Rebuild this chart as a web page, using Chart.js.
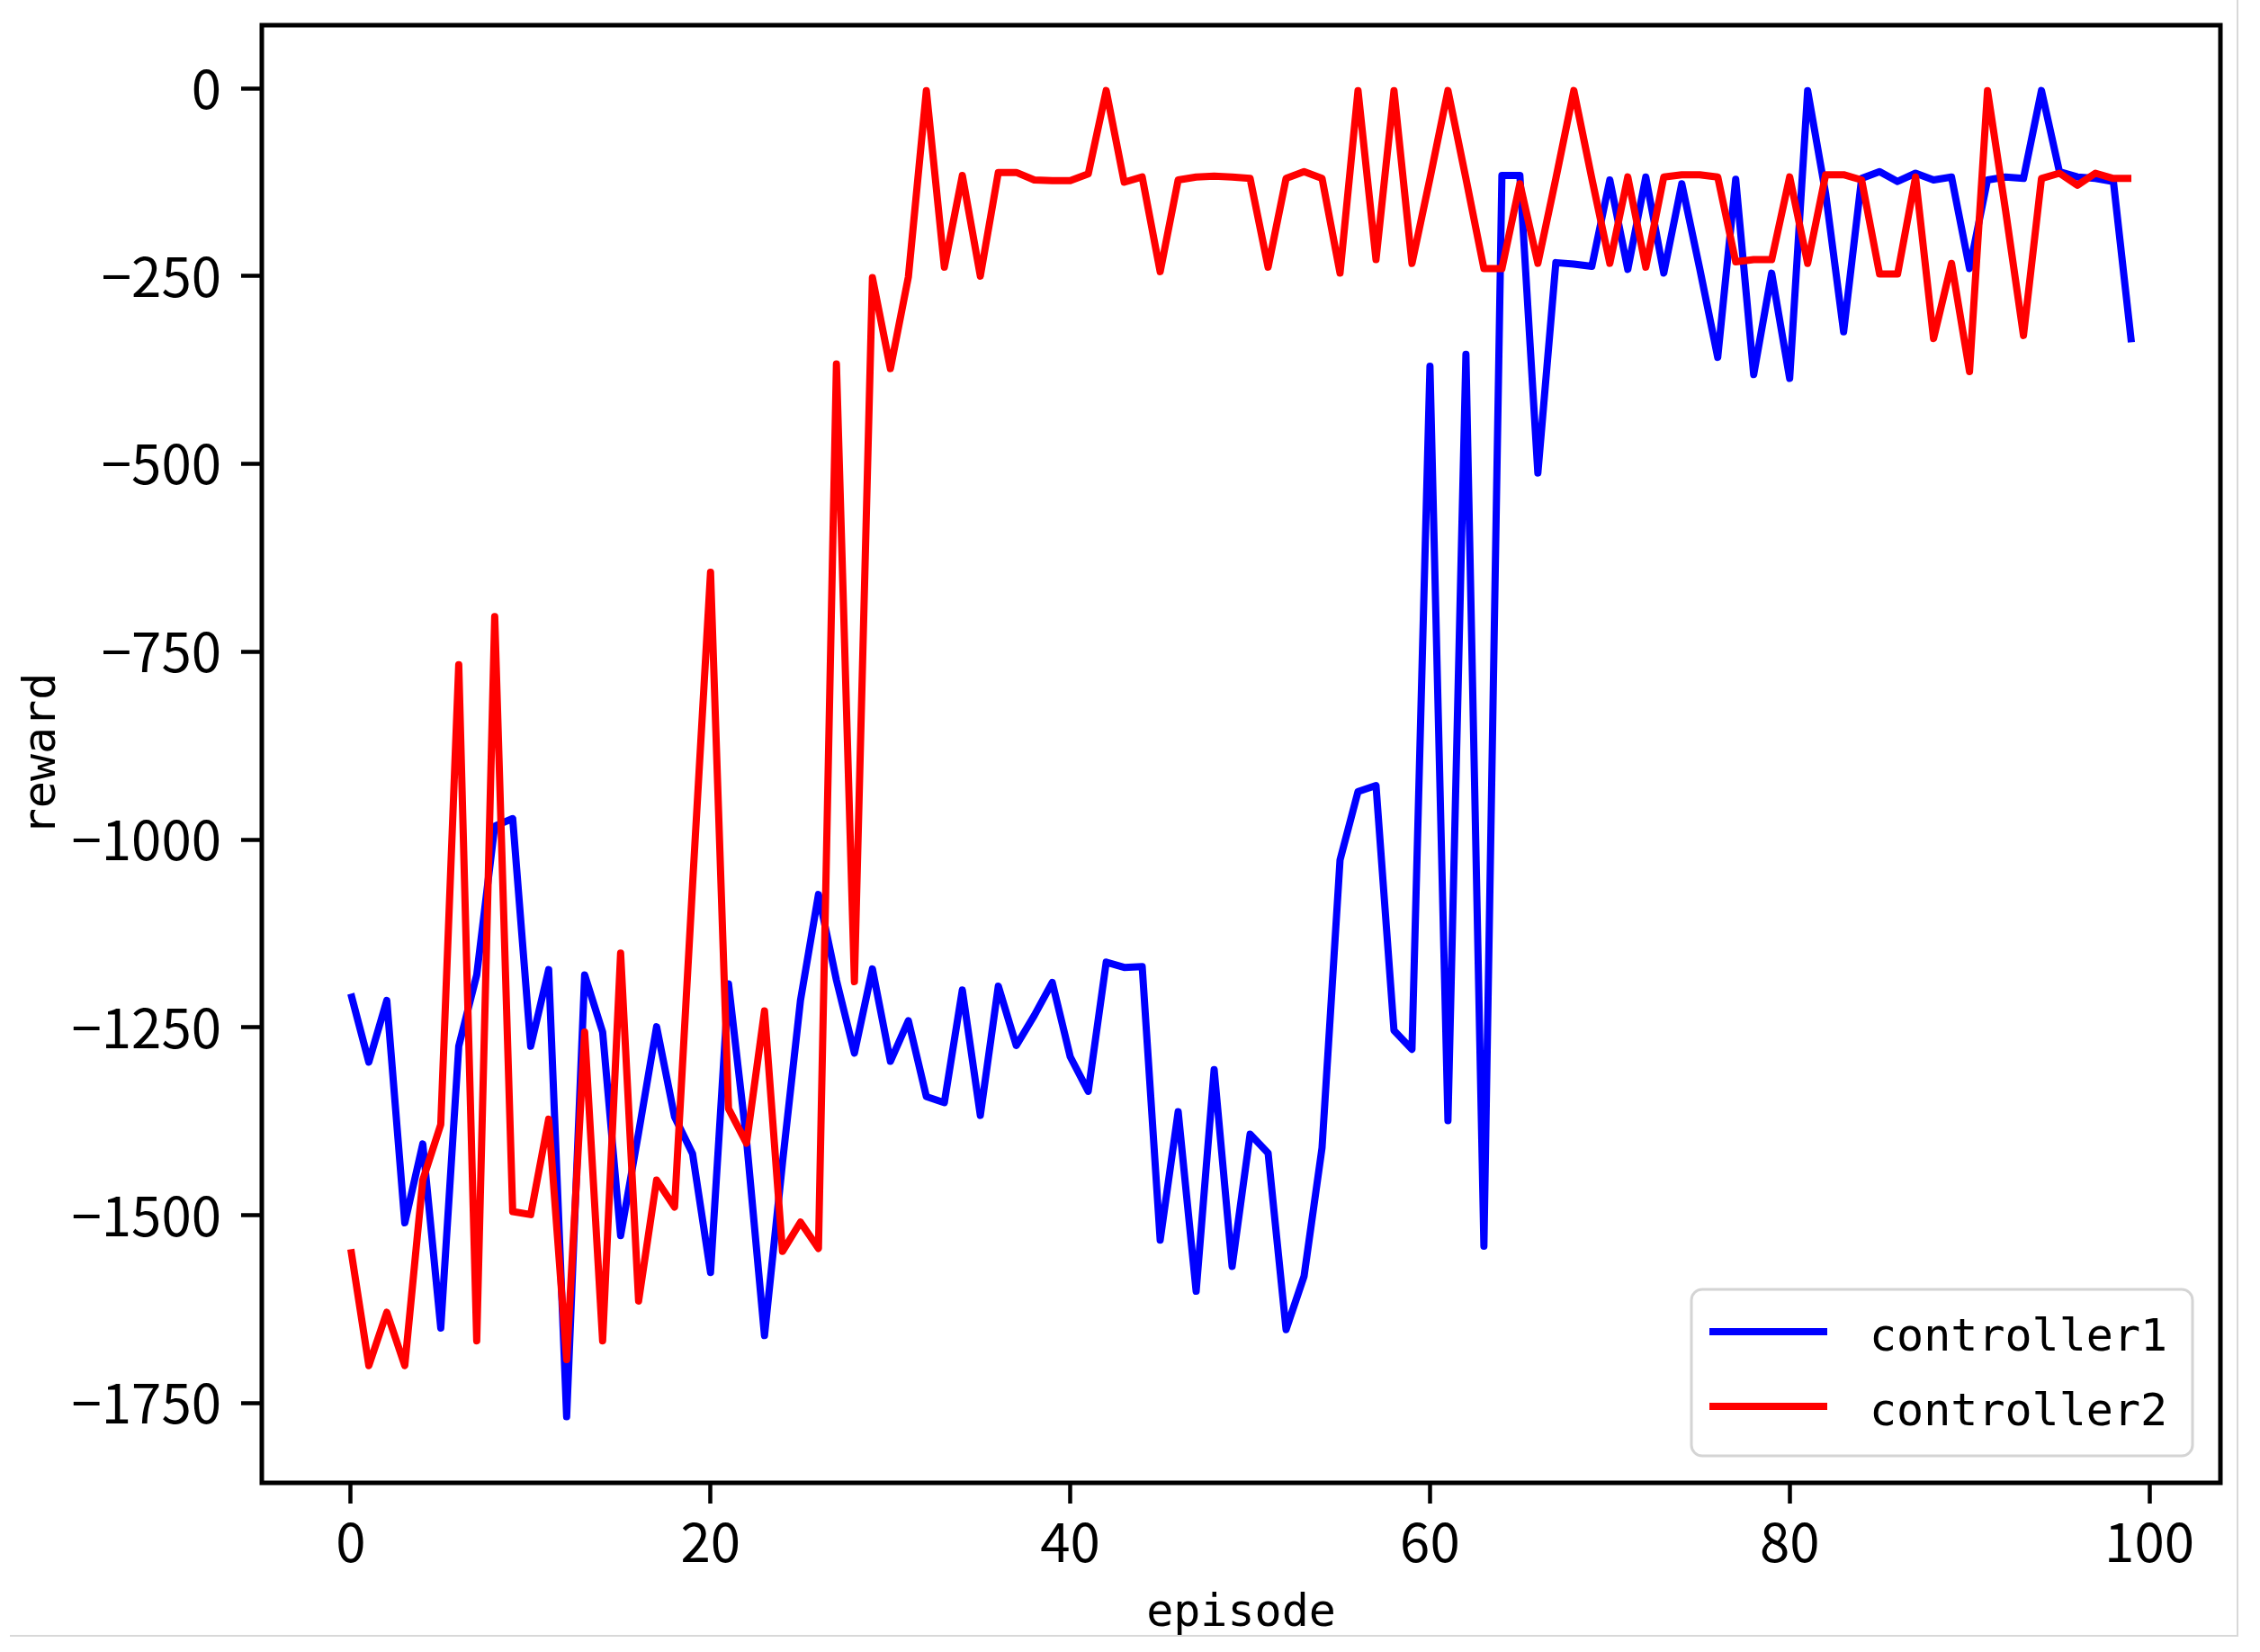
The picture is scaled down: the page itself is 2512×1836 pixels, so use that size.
<!DOCTYPE html>
<html>
<head>
<meta charset="utf-8">
<title>reward per episode</title>
<script src="https://cdn.jsdelivr.net/npm/chart.js@4.4.1/dist/chart.umd.min.js"></script>
<style>
  html, body { margin: 0; padding: 0; background: #fff; }
  #wrap { width: 2512px; height: 1836px; position: relative; }
</style>
</head>
<body>
<div id="wrap"><canvas id="rewardChart" width="2512" height="1836"></canvas></div>
<script>
// episode index (x)
const episodes = [];
for (let i = 0; i < 100; i++) episodes.push(i);

// reward per episode
const controller1 = [
  -1205, -1296, -1214, -1510, -1405, -1650, -1275, -1180, -982, -972,
  -1275, -1173, -1768, -1180, -1256, -1527, -1390, -1249, -1369, -1418,
  -1576, -1192, -1400, -1660, -1430, -1214, -1073, -1187, -1284, -1172,
  -1295, -1241, -1342, -1350, -1200, -1367, -1195, -1274, -1234, -1190,
  -1289, -1335, -1163, -1170, -1169, -1533, -1362, -1601, -1306, -1568,
  -1392, -1417, -1652, -1581, -1410, -1027, -936, -928, -1254, -1279,
  -370, -1374, -354, -1541, -116, -116, -512, -232, -234, -237,
  -122, -241, -118, -246, -127, -240, -358, -121, -381, -246,
  -386, -3, -140, -324, -120, -111, -124, -113, -122, -118,
  -240, -122, -118, -120, -3, -111, -118, -120, -124, -338
];

const controller2 = [
  -1545, -1700, -1629, -1700, -1453, -1379, -767, -1667, -703, -1495,
  -1499, -1372, -1692, -1256, -1667, -1151, -1614, -1453, -1489, -1060,
  -644, -1358, -1404, -1228, -1548, -1509, -1544, -367, -1189, -252,
  -373, -251, -3, -238, -116, -250, -112, -112, -122, -123,
  -123, -114, -3, -125, -118, -244, -122, -118, -117, -118,
  -120, -238, -120, -111, -120, -246, -3, -228, -3, -233,
  -120, -3, -120, -240, -240, -127, -233, -120, -3, -120,
  -233, -118, -238, -118, -115, -115, -118, -231, -228, -228,
  -118, -233, -115, -115, -122, -247, -247, -118, -333, -233,
  -377, -3, -162, -329, -120, -113, -129, -113, -120, -120
];

const seriesNames = ['controller1', 'controller2'];
const seriesColors = ['#0000ff', '#ff0000'];

// axis ticks
const xTicks = [0, 20, 40, 60, 80, 100];
const yTicks = [0, -250, -500, -750, -1000, -1250, -1500, -1750];

const tickFont = { family: '"Noto Sans CJK SC", "Liberation Sans", sans-serif', size: 60 };
const monoFont = { family: '"DejaVu Sans Mono", "Liberation Mono", monospace', size: 50 };

function toPoints(values) {
  return episodes.map((e, i) => ({ x: e, y: values[i] }));
}

// no extra room for the end tick labels, plot box is set by layout padding
function noPad(scale) {
  scale.paddingTop = 0;
  scale.paddingBottom = 0;
  scale.paddingLeft = 0;
  scale.paddingRight = 0;
}

// full box around the plot + legend + picture edge
const framePlugin = {
  id: 'frame',
  afterDraw(chart) {
    const { ctx, chartArea } = chart;
    ctx.save();
    ctx.strokeStyle = '#000';
    ctx.lineWidth = 5;
    ctx.strokeRect(chartArea.left, chartArea.top,
      chartArea.right - chartArea.left, chartArea.bottom - chartArea.top);

    // legend, lower right inside the plot
    const bw = 557, bh = 185;
    const bx = chartArea.right - 31 - bw;
    const by = chartArea.bottom - 30 - bh;
    ctx.beginPath();
    ctx.roundRect(bx, by, bw, bh, 12);
    ctx.fillStyle = 'rgba(255,255,255,0.85)';
    ctx.fill();
    ctx.strokeStyle = '#d4d4d4';
    ctx.lineWidth = 3;
    ctx.stroke();

    ctx.font = monoFont.size + 'px ' + monoFont.family;
    ctx.textBaseline = 'alphabetic';
    ctx.textAlign = 'left';
    chart.data.datasets.forEach((ds, i) => {
      const ly = by + 47 + i * 83;
      ctx.beginPath();
      ctx.moveTo(bx + 20, ly);
      ctx.lineTo(bx + 151, ly);
      ctx.strokeStyle = ds.borderColor;
      ctx.lineWidth = 8;
      ctx.stroke();
      ctx.fillStyle = '#000';
      ctx.fillText(ds.label, bx + 198, ly + 21);
    });

    // faint edge of the picture
    ctx.strokeStyle = '#d8d8d8';
    ctx.lineWidth = 2;
    ctx.beginPath();
    ctx.moveTo(11, 1818);
    ctx.lineTo(2487, 1818);
    ctx.lineTo(2487, 0);
    ctx.stroke();
    ctx.restore();
  }
};

const ctx = document.getElementById('rewardChart').getContext('2d');

new Chart(ctx, {
  type: 'line',
  data: {
    datasets: [
      {
        label: seriesNames[0],
        data: toPoints(controller1),
        borderColor: seriesColors[0],
        borderWidth: 8,
        pointRadius: 0,
        tension: 0,
        fill: false,
        borderJoinStyle: 'round',
        order: 1
      },
      {
        label: seriesNames[1],
        data: toPoints(controller2),
        borderColor: seriesColors[1],
        borderWidth: 8,
        pointRadius: 0,
        tension: 0,
        fill: false,
        borderJoinStyle: 'round',
        order: 0
      }
    ]
  },
  options: {
    responsive: false,
    devicePixelRatio: 1,
    animation: false,
    layout: { autoPadding: false, padding: { left: 0, top: 28, right: 44, bottom: 0 } },
    plugins: {
      legend: { display: false },
      tooltip: { enabled: false }
    },
    scales: {
      x: {
        type: 'linear',
        min: -4.95,
        max: 103.95,
        afterBuildTicks: (scale) => { scale.ticks = xTicks.map(v => ({ value: v })); },
        afterFit: (scale) => { scale.height = 188; noPad(scale); },
        grid: { drawOnChartArea: false, drawTicks: true, tickLength: 23, tickColor: '#000', tickWidth: 4.5 },
        border: { display: false },
        ticks: { color: '#000', font: tickFont, padding: 6, maxRotation: 0,
          callback: (v) => String(v) },
        title: { display: true, text: 'episode', color: '#000', font: monoFont,
          padding: { top: 0, bottom: 12 } }
      },
      y: {
        type: 'linear',
        min: -1856,
        max: 84,
        afterBuildTicks: (scale) => { scale.ticks = yTicks.map(v => ({ value: v })); },
        afterFit: (scale) => { scale.width = 291; noPad(scale); },
        grid: { drawOnChartArea: false, drawTicks: true, tickLength: 23, tickColor: '#000', tickWidth: 4.5 },
        border: { display: false },
        ticks: { color: '#000', font: tickFont, padding: 22,
          callback: (v) => String(v).replace('-', '\u2212') },
        title: { display: true, text: 'reward', color: '#000', font: monoFont,
          padding: { top: 18, bottom: 0 } }
      }
    }
  },
  plugins: [framePlugin]
});
</script>
</body>
</html>
